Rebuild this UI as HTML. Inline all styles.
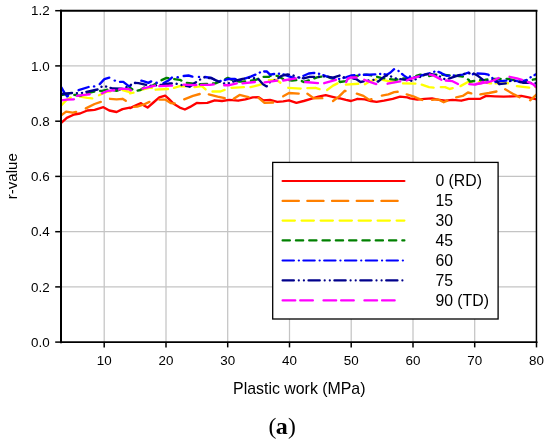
<!DOCTYPE html>
<html lang="en">
<head>
<meta charset="utf-8">
<title>r-value vs plastic work</title>
<style>
html,body{margin:0;padding:0;background:#fff;}
body{width:550px;height:444px;overflow:hidden;}
svg{display:block;filter:blur(0.35px);}
.tick{font-family:"Liberation Sans",Arial,Helvetica,sans-serif;font-size:13.4px;fill:#000;}
.leg{font-family:"Liberation Sans",Arial,Helvetica,sans-serif;font-size:15.8px;fill:#000;}
.ttl{font-family:"Liberation Sans",Arial,Helvetica,sans-serif;font-size:15.9px;fill:#000;}
.cap{font-family:"Liberation Serif","Times New Roman",serif;font-size:22px;fill:#000;}
.c{fill:none;stroke-width:2.1;stroke-linejoin:round;stroke-linecap:round;}
</style>
</head>
<body>
<svg width="550" height="444" viewBox="0 0 550 444">
<rect x="0" y="0" width="550" height="444" fill="#ffffff"/>

<g stroke="#c4c4c4" stroke-width="1.25" fill="none">
<line x1="104.2" y1="10.7" x2="104.2" y2="342.15"/>
<line x1="166.0" y1="10.7" x2="166.0" y2="342.15"/>
<line x1="227.7" y1="10.7" x2="227.7" y2="342.15"/>
<line x1="289.5" y1="10.7" x2="289.5" y2="342.15"/>
<line x1="351.2" y1="10.7" x2="351.2" y2="342.15"/>
<line x1="413.0" y1="10.7" x2="413.0" y2="342.15"/>
<line x1="474.7" y1="10.7" x2="474.7" y2="342.15"/>
<line x1="61.0" y1="286.9" x2="536.45" y2="286.9"/>
<line x1="61.0" y1="231.7" x2="536.45" y2="231.7"/>
<line x1="61.0" y1="176.4" x2="536.45" y2="176.4"/>
<line x1="61.0" y1="121.2" x2="536.45" y2="121.2"/>
<line x1="61.0" y1="65.9" x2="536.45" y2="65.9"/>
</g>
<clipPath id="plotclip"><rect x="61.0" y="10.7" width="475.45" height="331.45"/></clipPath>
<g class="c" style="stroke-width:2.35" clip-path="url(#plotclip)">
<polyline stroke="#ff0000" points="61.2,123.0 66.8,117.9 74.1,114.5 80.0,113.5 87.3,110.5 94.6,109.8 103.4,107.2 109.3,110.5 116.6,112.0 122.5,109.1 129.8,107.6 130.0,108.1 135.9,105.4 141.0,103.2 143.9,105.4 147.6,107.6 153.4,102.5 159.3,97.4 165.2,95.6 168.8,98.8 174.0,104.0 179.8,107.6 184.9,109.5 190.1,106.9 196.7,102.9 200.0,103.2 207.3,102.9 214.7,100.3 222.0,101.0 229.3,99.9 238.1,100.7 245.4,99.3 252.7,97.4 258.6,97.1 263.0,100.3 270.0,99.9 277.3,101.8 283.2,101.3 289.0,100.3 296.4,102.8 303.7,101.0 311.0,98.8 318.4,96.6 325.7,95.2 331.5,96.6 338.9,98.4 340.0,98.4 345.9,99.9 351.0,101.0 357.6,98.8 364.9,99.3 370.8,101.0 376.6,101.8 384.0,100.7 392.7,98.8 400.1,96.6 407.4,97.4 410.0,98.4 417.3,99.6 424.7,98.8 432.0,98.4 437.8,99.6 445.2,100.7 452.5,99.9 461.3,100.7 468.6,98.8 470.0,98.8 480.3,98.8 486.1,95.9 494.9,96.3 503.7,96.6 512.5,96.3 521.3,95.9 528.6,97.4 536.7,99.3"/>
<g stroke="#ff8000" stroke-dasharray="16.4 8.3">
<polyline points="61.2,115.4 66.1,111.6 72.7,112.7 78.5,111.3"/>
<polyline points="85.8,108.4 94.6,104.0 103.4,101.0"/>
<polyline points="110.0,98.8 116.6,99.3 122.5,98.8 128.0,102.2"/>
<polyline points="134.0,106.9 137.3,106.6 143.2,104.7 152.0,100.7"/>
<polyline points="159.3,99.6 165.2,99.6 171.0,103.2 177.6,103.7"/>
<polyline points="184.2,99.3 193.0,95.9 201.8,93.4"/>
<polyline points="208.8,94.4 217.6,96.6 226.4,98.4"/>
<polyline points="233.7,98.8 239.6,94.9 245.4,96.3 251.3,97.8"/>
<polyline points="258.6,97.8 264.5,102.9 273.3,102.5 276.2,101.5"/>
<polyline points="283.2,96.3 289.0,93.0 300.8,93.7"/>
<polyline points="307.4,93.7 314.0,98.4 324.9,98.1"/>
<polyline points="333.0,101.0 338.9,96.6 344.7,90.8 349.5,91.9"/>
<polyline points="356.8,93.7 363.4,95.9 369.3,99.9 375.2,98.1"/>
<polyline points="381.8,95.6 388.4,94.4 394.2,92.2 400.1,91.5"/>
<polyline points="406.7,94.4 413.3,96.3 417.3,98.1 423.9,100.7"/>
<polyline points="432.0,99.9 437.8,99.3 443.7,102.2 448.8,99.9"/>
<polyline points="456.2,97.4 462.7,95.9 467.9,92.5 473.7,94.0"/>
<polyline points="480.3,94.4 489.0,93.0 498.6,91.1"/>
<polyline points="505.2,89.3 514.0,94.4 523.5,99.3"/>
<polyline points="530.1,100.3 536.7,94.4"/>
</g>
<g stroke="#ffff00" stroke-dasharray="12.4 6.6">
<polyline points="61.2,105.4 66.8,99.6 72.7,96.6"/>
<polyline points="80.0,96.6 87.3,97.8 93.2,98.4"/>
<polyline points="99.0,95.2 106.4,91.9 113.7,90.8"/>
<polyline points="122.5,90.0 129.8,92.2 130.0,93.4 135.9,92.2"/>
<polyline points="140.3,90.0 149.0,87.8 152.0,87.8"/>
<polyline points="155.6,89.7 168.8,89.0"/>
<polyline points="174.0,87.8 179.8,86.1 188.6,86.4"/>
<polyline points="194.5,87.1 201.8,86.1 206.9,90.5"/>
<polyline points="212.5,91.5 220.5,91.5 226.4,89.3"/>
<polyline points="231.5,87.8 245.4,87.1"/>
<polyline points="250.5,87.1 258.6,85.2 261.5,84.2"/>
<polyline points="268.9,80.2 275.9,79.8 279.5,82.0 283.2,84.6"/>
<polyline points="288.3,87.8 301.5,88.6"/>
<polyline points="307.4,88.1 315.4,87.8 321.3,89.7"/>
<polyline points="327.1,90.0 333.0,85.6 338.9,82.7"/>
<polyline points="345.9,84.6 359.0,83.7"/>
<polyline points="364.9,84.2 369.3,81.7 377.4,79.0"/>
<polyline points="382.5,79.8 388.4,81.2 394.2,82.0"/>
<polyline points="403.0,83.4 416.2,83.7"/>
<polyline points="421.7,84.6 429.0,87.1 434.9,87.8"/>
<polyline points="440.8,87.1 445.2,87.1 449.6,89.0 454.0,87.8"/>
<polyline points="460.5,86.1 467.9,82.0 474.5,81.7"/>
<polyline points="478.8,82.0 489.0,83.2 492.0,83.2"/>
<polyline points="495.6,83.4 500.8,83.4 511.0,83.2"/>
<polyline points="516.9,86.1 530.1,87.8"/>
<polyline points="535.2,86.7 537.1,86.4"/>
</g>
<polyline stroke="#008000" stroke-dasharray="7.4 5.9" points="61.2,95.2 66.8,94.0 74.1,94.9 80.0,95.9 87.3,93.0 94.6,91.5 102.0,90.8 109.3,89.3 116.6,90.8 122.5,88.6 129.8,88.6 130.0,87.8 135.1,91.1 140.3,90.0 144.7,87.1 152.0,86.1 159.3,81.2 166.6,77.9 172.5,78.8 179.8,79.8 185.7,82.7 191.5,83.4 198.9,84.9 200.0,84.2 215.4,83.4 222.0,80.5 227.8,77.9 233.7,80.5 239.6,81.7 248.4,81.2 255.7,79.8 263.0,76.8 268.9,76.8 270.0,75.8 277.3,75.8 283.2,79.0 292.0,80.5 299.3,79.8 303.7,82.0 311.0,79.8 316.9,77.3 325.7,76.1 331.5,78.3 338.9,80.5 340.0,82.0 345.9,81.2 350.3,77.3 359.0,75.4 366.4,74.7 373.7,75.8 381.0,77.9 388.4,79.0 395.7,79.8 404.5,78.3 410.0,77.9 420.3,74.7 427.6,76.4 434.9,74.7 442.2,74.7 449.6,75.4 456.9,75.8 464.2,76.8 468.6,79.8 470.0,81.7 477.3,80.5 484.7,79.8 492.0,78.8 499.3,79.0 508.1,78.8 515.4,80.5 522.7,81.2 530.1,80.2 536.7,79.0"/>
<g stroke="#0000ff">
<polyline points="61.3,87.3 64.5,92.9 67.3,96.4 68.0,95.8"/>
<polyline points="78.6,90.2 88.6,87.0"/>
<polyline points="94.0,86.4 94.2,86.4"/>
<polyline points="99.7,84.1 104.4,79.1 109.3,77.6"/>
<polyline points="114.7,80.6 114.9,80.6"/>
<polyline points="120.0,81.8 123.3,81.8 128.7,86.2 130.4,85.8"/>
<polyline points="135.0,83.0 135.2,83.0"/>
<polyline points="141.3,80.7 144.0,81.3 148.4,82.9 151.2,81.4"/>
<polyline points="156.5,82.7 156.7,82.7"/>
<polyline points="163.4,83.3 168.9,80.2 171.9,77.6"/>
<polyline points="177.6,77.2 177.8,77.2"/>
<polyline points="183.6,76.0 188.5,75.5 192.4,76.6"/>
<polyline points="198.9,76.9 199.1,76.9"/>
<polyline stroke-dasharray="11.4 4.8 0.2 4.4" points="204.9,77.0 208.2,77.5 211.0,77.9 216.1,80.5 222.0,81.2 227.8,79.0 235.2,79.0 239.6,80.5 244.0,78.8 251.3,76.4 257.1,73.9 261.5,71.7 266.7,71.4 270.0,74.7 277.3,73.5 283.2,74.4 289.0,76.4 293.4,77.6 299.3,77.6 303.7,75.8 308.8,73.5 314.0,72.9 319.8,73.9 325.7,76.1 331.5,77.6 338.9,78.8 340.0,79.0 345.9,77.3 351.7,75.4 359.0,74.7 369.3,74.7 382.5,73.9 386.9,74.7 390.5,72.5 394.2,69.1 398.6,71.0 403.7,75.4 408.9,79.0 410.0,76.1 415.9,77.6 421.7,75.4 429.0,73.5 436.4,71.0 441.5,73.2 446.6,75.8 454.0,75.4 462.7,74.7 468.6,72.5 470.0,74.7 477.3,73.5 484.7,73.9 488.3,74.7 492.0,77.6 495.6,82.0 500.8,81.2 508.1,80.5 514.0,80.2 519.8,82.0 525.7,80.5 530.1,77.6 536.7,73.9"/>
</g>
<polyline stroke="#00008b" stroke-dasharray="11.4 4.8 0.1 5 0.1 4.5" points="60.7,94.0 73.3,92.9 77.1,93.2 82.0,92.9 86.4,91.8 98.4,89.3 102.7,85.8 107.6,86.9 112.5,88.5 122.2,88.6 128.0,86.5 134.2,82.9 138.5,83.1 149.5,85.6 155.0,85.5 162.0,84.8 170.0,83.5 176.0,83.6 180.9,84.9 189.6,86.7 194.0,83.5 203.8,77.2 208.0,78.0 211.3,78.0 216.7,80.7 222.2,82.9 226.5,84.0 232.2,82.0 236.6,80.5 242.5,78.8 251.3,77.6 258.6,79.3 263.0,84.2 266.7,86.4 270.0,82.0 275.9,79.8 281.7,75.8 287.6,74.4 292.0,74.9 297.8,77.3 303.7,78.3 309.6,76.8 318.4,76.8 325.7,76.4 333.0,77.6 340.0,75.4 345.9,78.3 351.7,78.3 356.1,79.0 360.5,82.0 367.8,80.5 373.7,79.8 378.1,81.7 384.0,76.8 388.4,74.7 392.7,77.6 398.6,79.0 405.9,79.8 410.0,79.8 412.2,81.2 418.8,77.6 424.7,74.7 430.5,73.9 439.3,76.1 443.7,79.0 448.1,78.8 456.9,75.8 464.2,73.9 472.9,72.9 477.3,75.4 484.7,81.2 490.5,80.5 494.9,79.0 499.3,84.2 506.6,83.2 511.0,80.5 516.9,81.2 522.7,82.7 528.6,82.7 536.7,83.4"/>
<g stroke="#ff00ff" stroke-dasharray="12.8 4.8 12.8 10.5">
<polyline points="61.2,100.3 66.8,99.6 74.1,99.3"/>
<polyline points="77.0,95.9 84.4,94.9 91.7,94.0"/>
<polyline points="102.0,93.4 107.8,90.8 116.6,90.0 122.5,88.6 129.8,89.3 130.0,90.0 132.9,91.2"/>
<polyline points="142.5,88.6 154.9,85.6"/>
<polyline points="159.3,86.1 173.2,85.6"/>
<polyline points="183.5,84.6 194.5,85.2 197.4,84.9 210.0,84.9 214.7,84.2"/>
<polyline points="224.2,85.2 229.3,85.2 237.4,83.2"/>
<polyline points="242.5,83.4 254.9,82.0"/>
<polyline points="264.5,82.3 270.0,81.7 278.1,80.5"/>
<polyline points="283.2,80.5 296.4,78.3"/>
<polyline points="305.2,82.0 319.8,83.2"/>
<polyline points="324.2,83.2 335.9,79.8"/>
<polyline points="346.2,82.0 348.1,78.3 351.0,77.3 359.0,77.6"/>
<polyline points="364.2,79.8 376.6,84.2"/>
<polyline points="387.6,83.7 401.5,81.2"/>
<polyline points="406.7,80.5 410.0,79.0 418.8,76.4"/>
<polyline points="429.8,74.7 433.4,75.4 441.5,79.8"/>
<polyline points="445.9,80.5 452.5,81.2 459.8,84.9"/>
<polyline points="469.3,84.2 474.5,84.6 483.3,82.7"/>
<polyline points="487.7,82.0 475.9,84.2 483.2,82.0"/>
<polyline points="486.8,82.7 493.4,80.5 500.0,77.3"/>
<polyline points="509.6,76.8 516.9,78.3 523.5,80.2"/>
<polyline points="527.9,82.0 533.0,84.2 536.7,87.5"/>
</g>
</g>
<g stroke="#000" stroke-linecap="square"><line x1="61.0" y1="10.7" x2="61.0" y2="342.15" stroke-width="2"/><line x1="61.0" y1="10.7" x2="536.45" y2="10.7" stroke-width="1.9"/><line x1="61.0" y1="342.15" x2="536.45" y2="342.15" stroke-width="1.9"/><line x1="536.45" y1="10.7" x2="536.45" y2="342.15" stroke-width="1.5"/></g>
<g stroke="#000" stroke-width="1.5">
<line x1="104.2" y1="342.15" x2="104.2" y2="347.4"/>
<line x1="166.0" y1="342.15" x2="166.0" y2="347.4"/>
<line x1="227.7" y1="342.15" x2="227.7" y2="347.4"/>
<line x1="289.5" y1="342.15" x2="289.5" y2="347.4"/>
<line x1="351.2" y1="342.15" x2="351.2" y2="347.4"/>
<line x1="413.0" y1="342.15" x2="413.0" y2="347.4"/>
<line x1="474.7" y1="342.15" x2="474.7" y2="347.4"/>
<line x1="536.5" y1="342.15" x2="536.5" y2="347.4"/>
<line x1="55.2" y1="342.1" x2="61.0" y2="342.1"/>
<line x1="55.2" y1="286.9" x2="61.0" y2="286.9"/>
<line x1="55.2" y1="231.7" x2="61.0" y2="231.7"/>
<line x1="55.2" y1="176.4" x2="61.0" y2="176.4"/>
<line x1="55.2" y1="121.2" x2="61.0" y2="121.2"/>
<line x1="55.2" y1="65.9" x2="61.0" y2="65.9"/>
<line x1="55.2" y1="10.7" x2="61.0" y2="10.7"/>
</g>
<g class="tick" text-anchor="middle">
<text x="104.2" y="364.8">10</text>
<text x="166.0" y="364.8">20</text>
<text x="227.7" y="364.8">30</text>
<text x="289.5" y="364.8">40</text>
<text x="351.2" y="364.8">50</text>
<text x="413.0" y="364.8">60</text>
<text x="474.7" y="364.8">70</text>
<text x="536.5" y="364.8">80</text>
</g>
<g class="tick" text-anchor="end">
<text x="49.6" y="346.8">0.0</text>
<text x="49.6" y="291.5">0.2</text>
<text x="49.6" y="236.3">0.4</text>
<text x="49.6" y="181.0">0.6</text>
<text x="49.6" y="125.8">0.8</text>
<text x="49.6" y="70.5">1.0</text>
<text x="49.6" y="15.3">1.2</text>
</g>
<text class="ttl" x="299.3" y="393.8" text-anchor="middle">Plastic work (MPa)</text>
<text class="ttl" style="font-size:15.1px" transform="translate(17.2,176.3) rotate(-90)" text-anchor="middle">r-value</text>
<text class="cap" x="268.6" y="434.4" style="font-size:23.6px">(</text><text class="cap" x="275.8" y="433.8" style="font-size:22.6px;font-weight:bold" textLength="12" lengthAdjust="spacingAndGlyphs">a</text><text class="cap" x="287.9" y="434.4" style="font-size:23.6px">)</text>
<rect x="272.7" y="162.4" width="225.4" height="156.6" fill="#fff" stroke="#000" stroke-width="1.3"/>
<g class="c">
<line x1="282.55" y1="181" x2="404.45" y2="181" stroke="#ff0000"/>
<line x1="282.55" y1="200.9" x2="404.45" y2="200.9" stroke="#ff8000" stroke-dasharray="16.4 8.3"/>
<line x1="282.55" y1="220.6" x2="404.45" y2="220.6" stroke="#ffff00" stroke-dasharray="12.4 6.6"/>
<line x1="282.55" y1="240.4" x2="404.45" y2="240.4" stroke="#008000" stroke-dasharray="7.4 5.9"/>
<line x1="282.55" y1="260.5" x2="404.45" y2="260.5" stroke="#0000ff" stroke-dasharray="11.4 4.8 0.2 4.4"/>
<line x1="282.55" y1="280.4" x2="404.45" y2="280.4" stroke="#00008b" stroke-dasharray="11.4 4.8 0.1 5 0.1 4.5"/>
<line x1="282.55" y1="300.4" x2="404.45" y2="300.4" stroke="#ff00ff" stroke-dasharray="12.8 4.8 12.8 10.5"/>
</g>
<g class="leg">
<text x="435.4" y="186.2">0 (RD)</text>
<text x="435.4" y="206.1">15</text>
<text x="435.4" y="225.8">30</text>
<text x="435.4" y="245.6">45</text>
<text x="435.4" y="265.7">60</text>
<text x="435.4" y="285.6">75</text>
<text x="435.4" y="305.6">90 (TD)</text>
</g>
</svg>
</body>
</html>
